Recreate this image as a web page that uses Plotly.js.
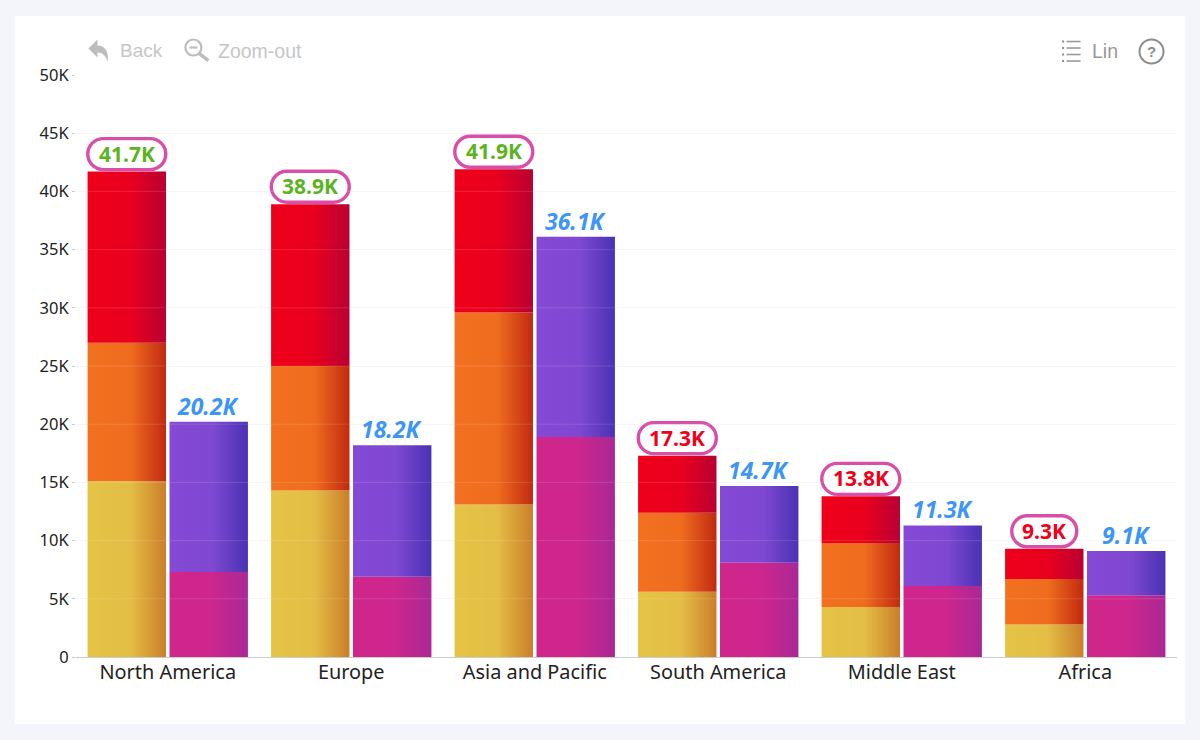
<!DOCTYPE html>
<html><head><meta charset="utf-8">
<script src="https://cdn.plot.ly/plotly-3.0.1.min.js"></script>
<style>html,body{margin:0;padding:0;background:#f3f5fa;}#chart{position:absolute;left:15px;top:16px;width:1170px;height:708px;}</style>
</head><body><div id="chart"></div>
<script>
const regions = ['North America','Europe','Asia and Pacific','South America','Middle East','Africa'];
const yellowValues = [15100,14300,13100,5600,4300,2800];
const orangeValues = [11900,10700,16500,6800,5500,3900];
const redValues = [14700,13900,12300,4900,4000,2600];
const magentaValues = [7300,6900,18900,8100,6100,5300];
const purpleValues = [12900,11300,17200,6600,5200,3800];
const tickValues = [0,5000,10000,15000,20000,25000,30000,35000,40000,45000,50000];
const tickLabels = ['0','5K','10K','15K','20K','25K','30K','35K','40K','45K','50K'];
const totalColors = ['#5cb31f','#5cb31f','#5cb31f','#f0001a','#f0001a','#f0001a'];

const FONT = '"Noto Sans", sans-serif';
const LEFT = -0.2233, RIGHT = 0.2233;

const addArr = (a,b)=>a.map((v,i)=>v+b[i]);
const orangeBase = yellowValues;
const redBase = addArr(yellowValues, orangeValues);
const leftTotals = addArr(redBase, redValues);
const rightTotals = addArr(magentaValues, purpleValues);
const fmt = v => (v/1000).toFixed(1)+'K';

function bar(y, base, group, color){
  return {type:'bar', x:regions, y:y, base:base, offsetgroup:group, marker:{color:color, line:{width:0}}, hoverinfo:'skip'};
}
const traces = [
  bar(yellowValues, null, 'a', '#e5c445'),
  bar(orangeValues, orangeBase, 'a', '#f27120'),
  bar(redValues, redBase, 'a', '#ef001a'),
  bar(magentaValues, null, 'b', '#d0268c'),
  bar(purpleValues, magentaValues, 'b', '#8549d6')
];
const gradients = [
  ['#e5c445','#e3bd45','#cb7e2a'],
  ['#f27120','#ef6c1e','#c22a10'],
  ['#ef001a','#e8001e','#b90033'],
  ['#d0268c','#cd268d','#a92896'],
  ['#8549d6','#7f48d2','#4a32b4']
];

function circle(cx, cy, r){
  const k = 0.5523*r;
  return `M${cx-r},${cy} C${cx-r},${cy+k} ${cx-k},${cy+r} ${cx},${cy+r} C${cx+k},${cy+r} ${cx+r},${cy+k} ${cx+r},${cy} `+
         `C${cx+r},${cy-k} ${cx+k},${cy-r} ${cx},${cy-r} C${cx-k},${cy-r} ${cx-r},${cy-k} ${cx-r},${cy} Z`;
}
function pill(hw, y0, y1){
  const r=(y1-y0)/2, k=0.5523*r, m=(y0+y1)/2;
  return `M${-hw},${y0} L${hw},${y0} C${hw+k},${y0} ${hw+r},${m-k} ${hw+r},${m} C${hw+r},${m+k} ${hw+k},${y1} ${hw},${y1} `+
         `L${-hw},${y1} C${-hw-k},${y1} ${-hw-r},${m+k} ${-hw-r},${m} C${-hw-r},${m-k} ${-hw-k},${y0} ${-hw},${y0} Z`;
}

const annotations = [], shapes = [];
regions.forEach((r,i)=>{
  const hw = leftTotals[i] < 10000 ? 17 : 23.5;
  shapes.push({type:'path', xref:'x', yref:'y', xsizemode:'pixel', ysizemode:'pixel',
    xanchor:i+LEFT, yanchor:leftTotals[i], layer:'above',
    path:pill(hw, 2, 33), line:{color:'#d94ea8', width:3.4}, fillcolor:'#ffffff'});
  annotations.push({x:i+LEFT, y:leftTotals[i], xref:'x', yref:'y', yanchor:'middle', yshift:18, showarrow:false,
    text:'<b>'+fmt(leftTotals[i])+'</b>', font:{family:FONT, size:21, color:totalColors[i]}});
  annotations.push({x:i+RIGHT, y:rightTotals[i], xref:'x', yref:'y', yanchor:'middle', yshift:16, showarrow:false,
    text:'<b><i>'+fmt(rightTotals[i])+'</i></b>', font:{family:FONT, size:23, color:'#3d95f5'}});
});
tickValues.slice(1).forEach(v=>{
  shapes.push({type:'line', xref:'paper', yref:'y', x0:0, x1:1, y0:v, y1:v, layer:'above',
    line:{color:'rgba(255,255,255,0.13)', width:1}});
});

// toolbar
const PX = x => (x-75.5)/1102, PY = y => (657-y)/582.5;
function icon(cx, cy, path, opts){
  shapes.push(Object.assign({type:'path', xref:'paper', yref:'paper', xsizemode:'pixel', ysizemode:'pixel',
    xanchor:PX(cx), yanchor:PY(cy), path:path, layer:'above', line:{width:0}}, opts));
}
function label(x, y, text, size, color){
  annotations.push({xref:'paper', yref:'paper', x:PX(x), y:PY(y), xanchor:'left', yanchor:'middle', showarrow:false,
    text:text, font:{family:'"Liberation Sans", Arial, sans-serif', size:size, color:color}});
}
icon(98, 50, 'M-10,2 L-1,11 L-1,5 C7,5 11,-2 9,-11 C7,-5 4,-2 -1,-2 L-1,-7 Z', {fillcolor:'#bdbdbd'});
icon(195, 49, circle(-2,2,8), {line:{color:'#bdbdbd', width:2.2}, fillcolor:'rgba(0,0,0,0)'});
icon(195, 49, 'M-6,2 L2,2', {line:{color:'#bdbdbd', width:2.2}});
icon(195, 49, 'M4,-4 L13,-11', {line:{color:'#bdbdbd', width:3.5}});
label(118, 50, 'Back', 19, '#c6c6c6');
label(216, 50, 'Zoom-out', 19.5, '#c6c6c6');
[41,47.5,54,60.5].forEach(y=>{
  icon(1063.5, y, 'M-1,-1 L1,-1 L1,1 L-1,1 Z', {fillcolor:'#8c8c8c'});
  icon(1074, y, 'M-7,0 L7,0', {line:{color:'#9a9a9a', width:1.6}});
});
label(1090, 50, 'Lin', 19.5, '#999999');
icon(1152, 51, circle(0,0,12), {line:{color:'#8c8c8c', width:2}, fillcolor:'rgba(0,0,0,0)'});
annotations.push({xref:'paper', yref:'paper', x:PX(1152), y:PY(51), xanchor:'center', yanchor:'middle', showarrow:false,
  text:'<b>?</b>', font:{family:'"Liberation Sans", Arial, sans-serif', size:15, color:'#8c8c8c'}});

const layout = {
  width:1170, height:708, paper_bgcolor:'#ffffff', plot_bgcolor:'#ffffff',
  margin:{l:60.5, r:7.5, t:58.5, b:66.5}, showlegend:false, barmode:'group', bargap:0.107, bargroupgap:0.043,
  font:{family:FONT, color:'#222222'},
  xaxis:{type:'category', categoryorder:'array', categoryarray:regions, showgrid:false, showline:true, linecolor:'#cccccc', linewidth:1,
    ticks:'', ticklabelstandoff:-3, tickfont:{family:FONT, size:19.9, color:'#222222'}, fixedrange:true},
  yaxis:{range:[0,50000], tickmode:'array', tickvals:tickValues, ticktext:tickLabels, gridcolor:'#f4f4f4', gridwidth:1,
    zeroline:false, ticks:'outside', ticklen:3, tickcolor:'#cccccc', tickfont:{family:FONT, size:16.5, color:'#222222'}, fixedrange:true},
  annotations:annotations, shapes:shapes
};
Plotly.newPlot('chart', traces, layout, {displayModeBar:false}).then(gd=>{
  const NS='http://www.w3.org/2000/svg';
  const svg=gd.querySelector('.main-svg');
  let defs=svg.querySelector('defs');
  gradients.forEach((g,i)=>{
    const lg=document.createElementNS(NS,'linearGradient');
    lg.setAttribute('id','barGrad'+i);
    lg.setAttribute('x1','0');lg.setAttribute('x2','1');lg.setAttribute('y1','0');lg.setAttribute('y2','0');
    [[0,g[0]],[0.55,g[1]],[1,g[2]]].forEach(s=>{
      const st=document.createElementNS(NS,'stop');
      st.setAttribute('offset',s[0]);st.setAttribute('stop-color',s[1]);lg.appendChild(st);
    });
    defs.appendChild(lg);
  });
  gd.querySelectorAll('.barlayer .trace.bars').forEach((t,i)=>{
    t.querySelectorAll('path').forEach(p=>{p.style.fill='url(#barGrad'+i+')';});
  });
});
</script></body></html>
